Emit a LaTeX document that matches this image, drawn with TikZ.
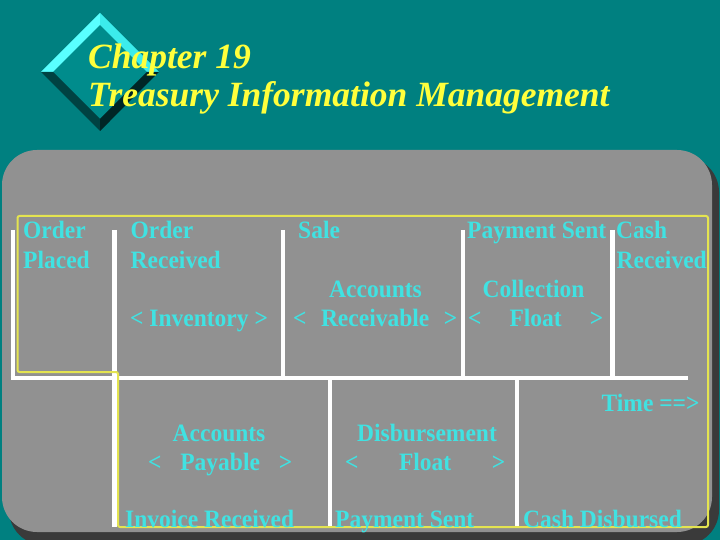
\documentclass[tikz,border=0pt]{standalone}
\usepackage{fontspec}
\setmainfont{Liberation Serif}
\newfontfamily\lblfont[FakeStretch=0.94]{Liberation Serif}
\definecolor{slideteal}{RGB}{0,128,128}
\definecolor{panelgray}{RGB}{145,145,145}
\definecolor{panelshadow}{RGB}{58,58,58}
\definecolor{labelcyan}{RGB}{64,226,226}
\definecolor{titleyellow}{RGB}{255,255,60}
\definecolor{frameyellow}{RGB}{228,228,80}
\definecolor{bevellight}{RGB}{90,255,255}
\definecolor{bevelmid}{RGB}{60,236,236}
\definecolor{beveldark}{RGB}{0,66,66}
\definecolor{beveldeep}{RGB}{0,38,38}
\definecolor{bevelface}{RGB}{0,140,140}
\newcommand{\spreadlbl}[4]{\makebox[#1][l]{#2\hfill#3\hfill#4}}
\tikzset{
  lbl/.style={text=labelcyan, font=\lblfont\bfseries\fontsize{25}{29}\selectfont, inner sep=0pt, anchor=base west},
  titletext/.style={text=titleyellow, font=\bfseries\itshape\fontsize{35.5}{38}\selectfont, inner sep=0pt, anchor=base west},
  tick/.style={white, line width=4.5pt},
}
\begin{document}
\begin{tikzpicture}[x=1pt,y=-1pt]
      \useasboundingbox (0,0) rectangle (720,540);
      \fill[slideteal] (0,0) rectangle (720,540);
      %%panel
      \fill[panelshadow, rounded corners=35pt] (9,157) rectangle (719,545);
      \fill[panelgray, rounded corners=35pt] (2,150) rectangle (712,532);
      %%diamond
      \fill[bevelface] (53,72) -- (100,25) -- (147,72) -- (100,119) -- cycle;
      \fill[bevellight] (41,72) -- (100,13) -- (100,25) -- (53,72) -- cycle;
      \fill[bevelmid] (100,13) -- (159,72) -- (147,72) -- (100,25) -- cycle;
      \fill[beveldark] (41,72) -- (53,72) -- (100,119) -- (100,131) -- cycle;
      \fill[beveldeep] (159,72) -- (100,131) -- (100,119) -- (147,72) -- cycle;
      %%title
      \node[titletext] (chap) at (88,69) {Chapter 19};
      \node[titletext] (treas) at (88,107) {Treasury Information Management};
      %%timeline
      \foreach \x in {13,114.5,283,463,612.5}
        \draw[tick] (\x,230) -- (\x,378);
      \draw[tick] (10.7,378) -- (688,378);
      \foreach \x in {114.5,330,517}
        \draw[tick] (\x,378) -- (\x,527);
      \draw[frameyellow, line width=2pt, rounded corners=2pt]
        (17.5,216) -- (708,216) -- (708,527) -- (118,527) -- (118,372) -- (17.5,372) -- cycle;
      %%receivable side
      \node[lbl] (ordp) at (23,239) {Order};
      \node[lbl] (plcd) at (23,268) {Placed};
      \node[lbl] (ordr) at (130.5,239) {Order};
      \node[lbl] (rcvd) at (130.5,268) {Received};
      \node[lbl] (sale) at (298,239) {Sale};
      \node[lbl] (pays) at (467,239) {Payment Sent};
      \node[lbl] (cash) at (616,239) {Cash};
      \node[lbl] (cshr) at (616.5,268) {Received};
      \node[lbl] (acr) at (329,297) {Accounts};
      \node[lbl] (coll) at (482.5,297) {Collection};
      \node[lbl] (inv) at (130,326) {< Inventory >};
      \node[lbl] (recv) at (293,326) {\spreadlbl{164pt}{<}{Receivable}{>}};
      \node[lbl] (cflt) at (468,326) {\spreadlbl{135pt}{<}{Float}{>}};
      %%payable side
      \node[lbl] (time) at (601.5,411.5) {Time ==>};
      \node[lbl] (acp) at (172.5,441) {Accounts};
      \node[lbl] (pybl) at (148,470) {\spreadlbl{144pt}{<}{Payable}{>}};
      \node[lbl] (disb) at (357,441) {Disbursement};
      \node[lbl] (dflt) at (345,470) {\spreadlbl{160pt}{<}{Float}{>}};
      \node[lbl] (invr) at (125,527) {Invoice Received};
      \node[lbl] (pysn) at (335,527) {Payment Sent};
      \node[lbl] (cshd) at (523,527) {Cash Disbursed};
\end{tikzpicture}
\end{document}
